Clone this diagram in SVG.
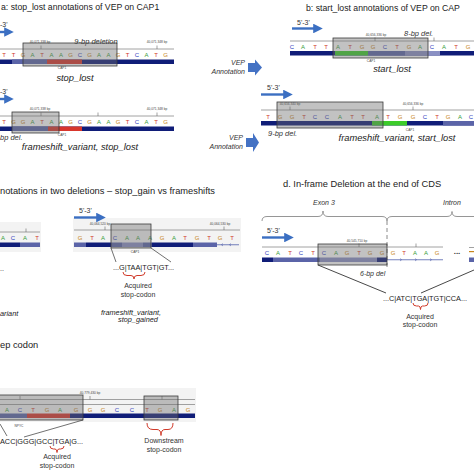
<svg xmlns="http://www.w3.org/2000/svg" width="474" height="474" viewBox="0 0 474 474">
<defs>
<style>
text{font-family:"Liberation Sans",Arial,sans-serif}
.ttl{font-size:8.7px;fill:#222}
.ttl2{font-size:9.3px;fill:#222}
.it{font-style:italic}
.lab{font-size:9.3px;fill:#222}
.lab2{font-size:7.3px;fill:#222}
.sm{font-size:7px;fill:#333}
.tiny{font-size:3.2px;fill:#444}
.nt{font-size:6px;text-anchor:middle}
.A{fill:#3a9d3a}.C{fill:#3040c0}.G{fill:#c8861c}.T{fill:#d03a2a}
.rl{stroke:#8a8a8a;stroke-width:0.8;fill:none}
.tk{stroke:#666;stroke-width:0.6}
.nv{fill:#101d78}.sl{fill:#5b64a8}.ls{fill:#8a90c4}.rd{fill:#d8362c}.gr{fill:#3ccc2a}
.box{fill:#6e6e6e;fill-opacity:0.42;stroke:#3a3a3a;stroke-width:0.8}
.ar{stroke:#3b6fc2;stroke-width:2.4;fill:none;marker-end:url(#ah)}
.bk{fill:#4472c4}
.ln{stroke:#333;stroke-width:0.9;fill:none}
.br{stroke:#d03a2a;stroke-width:1;fill:none}
.gb{stroke:#8a8a8a;stroke-width:0.9;fill:none}
.bg{fill:#f3f3f3}
.mid{text-anchor:middle}
.end{text-anchor:end}
</style>
<marker id="ah" markerWidth="4" markerHeight="4" refX="2" refY="2" orient="auto" markerUnits="strokeWidth">
<path d="M0,0 L4,2 L0,4 Z" fill="#3b6fc2"/>
</marker>
</defs>
<rect width="474" height="474" fill="#fff"/>

<!-- Panel a -->
<g id="panel-a">
<text class="ttl" x="1" y="10">a: stop_lost annotations of VEP on CAP1</text>
<g id="a-track1">
<text class="sm" x="0" y="27">-3'</text>
<line class="ar" x1="0" y1="32" x2="9" y2="32"/>
<text class="tiny mid" x="40" y="42.5">40,071,338 bp</text>
<text class="tiny mid" x="157" y="42.5">40,071,348 bp</text>
<text class="sm it mid" x="96" y="43.5" style="font-size:7.5px">9-bp deletion</text>
<line class="rl" x1="0" y1="49" x2="174" y2="49"/>
<line class="tk" x1="41" y1="45.5" x2="41" y2="49"/>
<line class="tk" x1="157" y1="45.5" x2="157" y2="49"/>
<text class="nt" y="56.5"><tspan class="T" x="4">T</tspan><tspan class="T" x="13.5">T</tspan><tspan class="G" x="23">G</tspan><tspan class="A" x="32.5">A</tspan><tspan class="T" x="42">T</tspan><tspan class="A" x="51.5">A</tspan><tspan class="A" x="61">A</tspan><tspan class="G" x="70.5">G</tspan><tspan class="C" x="80">C</tspan><tspan class="G" x="89.5">G</tspan><tspan class="A" x="99">A</tspan><tspan class="A" x="108.5">A</tspan><tspan class="G" x="118">G</tspan><tspan class="T" x="127.5">T</tspan><tspan class="C" x="137">C</tspan><tspan class="A" x="146.5">A</tspan><tspan class="T" x="156">T</tspan><tspan class="G" x="165.5">G</tspan></text>
<rect class="nv" x="0" y="59.5" width="174" height="4.5"/>
<rect class="sl" x="12" y="59.5" width="35" height="4.5"/>
<rect class="rd" x="47" y="59.5" width="35" height="4.5"/>
<text class="tiny mid" x="62" y="68.5">CAP1</text>
<rect class="box" x="23" y="43" width="94" height="23"/>
<text class="lab it mid" x="75" y="81">stop_lost</text>
</g>
<g id="a-track2">
<text class="sm" x="0" y="94">-3'</text>
<line class="ar" x1="0" y1="99" x2="9" y2="99"/>
<text class="tiny mid" x="40" y="109.5">40,071,338 bp</text>
<text class="tiny mid" x="157" y="109.5">40,071,348 bp</text>
<line class="rl" x1="0" y1="116" x2="174" y2="116"/>
<line class="tk" x1="41" y1="112.5" x2="41" y2="116"/>
<line class="tk" x1="98" y1="112.5" x2="98" y2="116"/>
<line class="tk" x1="157" y1="112.5" x2="157" y2="116"/>
<text class="nt" y="123.5"><tspan class="T" x="4">T</tspan><tspan class="G" x="13.5">G</tspan><tspan class="G" x="23">G</tspan><tspan class="A" x="32.5">A</tspan><tspan class="T" x="42">T</tspan><tspan class="A" x="51.5">A</tspan><tspan class="A" x="61">A</tspan><tspan class="G" x="70.5">G</tspan><tspan class="C" x="80">C</tspan><tspan class="G" x="89.5">G</tspan><tspan class="A" x="99">A</tspan><tspan class="A" x="108.5">A</tspan><tspan class="G" x="118">G</tspan><tspan class="T" x="127.5">T</tspan><tspan class="C" x="137">C</tspan><tspan class="A" x="146.5">A</tspan><tspan class="T" x="156">T</tspan><tspan class="G" x="165.5">G</tspan></text>
<rect class="nv" x="0" y="126.5" width="174" height="4.5"/>
<rect class="sl" x="12" y="126.5" width="36" height="4.5"/>
<rect class="rd" x="48" y="126.5" width="34" height="4.5"/>
<text class="tiny mid" x="62" y="136">CAP1</text>
<rect class="box" x="12" y="112" width="47" height="21"/>
<text class="sm it" x="0" y="139.5" style="font-size:7.5px">bp del.</text>
<text class="lab it mid" x="80" y="150">frameshift_variant, stop_lost</text>
</g>
</g>

<!-- connectors: VEP annotation arrows -->
<g id="connectors">
<text class="sm it end" x="245" y="64.5">VEP</text>
<text class="sm it end" x="245" y="74">Annotation</text>
<polygon class="bk" points="248,63 255,63 255,59.5 262,67.5 255,75.5 255,72 248,72"/>
<text class="sm it end" x="243" y="139.5">VEP</text>
<text class="sm it end" x="243" y="149">Annotation</text>
<polygon class="bk" points="246,138 253,138 253,133 259,142.5 253,152 253,147 246,147"/>
</g>

<!-- Panel b -->
<g id="panel-b">
<text class="ttl" x="306" y="10.5">b: start_lost annotations of VEP on CAP</text>
<g id="b-track1">
<text class="sm" x="297" y="24.5">5'-3'</text>
<line class="ar" x1="292" y1="28.5" x2="318" y2="28.5"/>
<text class="tiny mid" x="376" y="35.5">40,656,336 bp</text>
<text class="sm it" x="404" y="36" style="font-size:7.5px">8-bp del.</text>
<line class="rl" x1="290" y1="41" x2="474" y2="41"/>
<line class="tk" x1="375" y1="37.5" x2="375" y2="41"/>
<line class="tk" x1="434" y1="37.5" x2="434" y2="41"/>
<text class="nt" y="48.5"><tspan class="C" x="292">C</tspan><tspan class="A" x="303">A</tspan><tspan class="T" x="315">T</tspan><tspan class="T" x="326">T</tspan><tspan class="A" x="338">A</tspan><tspan class="T" x="350">T</tspan><tspan class="G" x="362">G</tspan><tspan class="G" x="373">G</tspan><tspan class="C" x="385">C</tspan><tspan class="T" x="397">T</tspan><tspan class="G" x="409">G</tspan><tspan class="A" x="420">A</tspan><tspan class="C" x="432">C</tspan><tspan class="A" x="444">A</tspan><tspan class="T" x="456">T</tspan><tspan class="G" x="468">G</tspan></text>
<rect class="nv" x="290" y="51" width="184" height="4.5"/>
<rect class="gr" x="335" y="51" width="33" height="4.5"/>
<rect class="sl" x="368" y="51" width="37" height="4.5"/>
<rect class="ls" x="405" y="51" width="35" height="4.5"/>
<text class="tiny mid" x="371" y="62">CAP1</text>
<rect class="box" x="333" y="38" width="95" height="20"/>
<text class="lab it mid" x="392" y="71.5">start_lost</text>
</g>
<g id="b-track2">
<text class="sm" x="267" y="89.5">5'-3'</text>
<line class="ar" x1="261" y1="94.5" x2="288" y2="94.5"/>
<text class="tiny mid" x="290" y="104.5">40,656,340 bp</text>
<text class="tiny mid" x="413" y="104.5">40,656,336 bp</text>
<line class="rl" x1="261" y1="110" x2="474" y2="110"/>
<line class="tk" x1="290" y1="106.5" x2="290" y2="110"/>
<line class="tk" x1="413" y1="106.5" x2="413" y2="110"/>
<text class="nt" y="118.5"><tspan class="T" x="268">T</tspan><tspan class="G" x="280">G</tspan><tspan class="G" x="292">G</tspan><tspan class="T" x="304">T</tspan><tspan class="C" x="315">C</tspan><tspan class="C" x="327">C</tspan><tspan class="A" x="340">A</tspan><tspan class="T" x="352">T</tspan><tspan class="T" x="363">T</tspan><tspan class="A" x="377">A</tspan><tspan class="T" x="388">T</tspan><tspan class="G" x="400">G</tspan><tspan class="G" x="413">G</tspan><tspan class="C" x="425">C</tspan><tspan class="T" x="437">T</tspan><tspan class="G" x="448">G</tspan><tspan class="A" x="460">A</tspan><tspan class="C" x="471">C</tspan></text>
<rect class="nv" x="261" y="121" width="213" height="4.5"/>
<rect class="gr" x="372" y="121" width="35" height="4.5"/>
<rect class="sl" x="443" y="121" width="31" height="4.5"/>
<text class="tiny mid" x="410" y="130.5">CAP1</text>
<rect class="box" x="277" y="102" width="106" height="26"/>
<text class="sm it" x="268" y="135.5" style="font-size:7.5px">9-bp del.</text>
<text class="lab it mid" x="397" y="141">frameshift_variant, start_lost</text>
</g>
</g>

<!-- Panel c -->
<g id="panel-c">
<text class="ttl2" x="0" y="194">notations in two deletions – stop_gain vs frameshifts</text>
<g id="c-track1">
<rect class="bg" x="0" y="222" width="41" height="30"/>
<line class="rl" x1="0" y1="232" x2="40" y2="232"/>
<line class="tk" x1="26" y1="228.5" x2="26" y2="232"/>
<text class="nt" y="239.5"><tspan class="A" x="3">A</tspan><tspan class="C" x="13">C</tspan><tspan class="A" x="25">A</tspan><tspan class="T" x="37">T</tspan></text>
<rect class="nv" x="0" y="242.5" width="20" height="4.5"/>
<rect class="sl" x="20" y="242.5" width="20" height="4.5"/>
<text class="sm" x="0" y="271">..</text>
<text class="lab2 it" x="0" y="316">ariant</text>
</g>
<g id="c-track2">
<rect class="bg" x="73" y="218" width="168" height="34"/>
<text class="sm" x="79" y="213">5'-3'</text>
<line class="ar" x1="74" y1="217.5" x2="101" y2="217.5"/>
<text class="tiny mid" x="100" y="224.5">40,064,520 bp</text>
<text class="tiny mid" x="220" y="224.5">40,064,530 bp</text>
<line class="rl" x1="74" y1="230" x2="240" y2="230"/>
<line class="tk" x1="105" y1="226.5" x2="105" y2="230"/>
<line class="tk" x1="224" y1="226.5" x2="224" y2="230"/>
<text class="nt" y="240"><tspan class="G" x="80">G</tspan><tspan class="T" x="92">T</tspan><tspan class="A" x="103">A</tspan><tspan class="C" x="115">C</tspan><tspan class="A" x="127">A</tspan><tspan class="A" x="138">A</tspan><tspan class="A" x="150">A</tspan><tspan class="G" x="162">G</tspan><tspan class="A" x="174">A</tspan><tspan class="T" x="185">T</tspan><tspan class="G" x="197">G</tspan><tspan class="T" x="209">T</tspan><tspan class="G" x="220">G</tspan><tspan class="T" x="232">T</tspan></text>
<rect class="sl" x="74" y="242.5" width="12" height="4.5"/>
<rect class="nv" x="86" y="242.5" width="25" height="4.5"/>
<rect class="sl" x="111" y="242.5" width="11" height="4.5"/>
<rect class="ls" x="122" y="242.5" width="21" height="4.5"/>
<rect class="sl" x="143" y="242.5" width="9" height="4.5"/>
<rect class="nv" x="152" y="242.5" width="41" height="4.5"/>
<rect class="sl" x="193" y="242.5" width="24" height="4.5"/>
<line x1="217" y1="244.75" x2="239" y2="244.75" stroke="#3a4aa0" stroke-width="0.7"/>
<path d="M223,243.5 L221.5,244.75 L223,246 M231,243.5 L229.5,244.75 L231,246" stroke="#3a4aa0" stroke-width="0.5" fill="none"/>
<text class="tiny mid" x="135" y="252.5">CAP1</text>
<rect class="box" x="111" y="224" width="40" height="24"/>
<path class="ln" d="M111,248 L116,262 M151,248 L171,262" style="stroke-width:0.7"/>
<text class="lab2" x="113" y="269.5">...G|TAA|TGT|GT...</text>
<path class="br" d="M123,272 Q123,275.5 127,275.5 L131,275.5 Q134,275.5 134,279 Q134,275.5 137,275.5 L141,275.5 Q145,275.5 145,272"/>
<text class="sm mid" x="138" y="288">Acquired</text>
<text class="sm mid" x="138" y="297">stop-codon</text>
<text class="lab2 it mid" x="131" y="314.5">frameshift_variant,</text>
<text class="lab2 it mid" x="138" y="322">stop_gained</text>
</g>
</g>

<!-- Panel d -->
<g id="panel-d">
<text class="ttl2" x="283" y="187">d. In-frame Deletion at the end of CDS</text>
<text class="sm it" x="313" y="205">Exon 3</text>
<text class="sm it" x="443" y="205">Intron</text>
<path class="gb" d="M262,221 Q262,216.5 267,216.5 L318,216.5 Q323,216.5 323,211 Q323,216.5 328,216.5 L382,216.5 Q387,216.5 387,221"/>
<path class="gb" d="M387,221 Q387,216.5 392,216.5 L447,216.5 Q452,216.5 452,211.5 Q452,216.5 457,216.5 L474,216.5"/>
<line x1="387" y1="221" x2="387" y2="270" stroke="#8a8a8a" stroke-width="1" stroke-dasharray="4,3"/>
<text class="sm" x="267" y="233">5'-3'</text>
<line class="ar" x1="262" y1="237.5" x2="289" y2="237.5"/>
<text class="tiny mid" x="357" y="241.5">40,545,710 bp</text>
<line class="rl" x1="262" y1="247" x2="443" y2="247"/>
<line class="tk" x1="359" y1="243.5" x2="359" y2="247"/>
<line class="tk" x1="416" y1="243.5" x2="416" y2="247"/>
<text class="nt" y="255"><tspan class="C" x="267">C</tspan><tspan class="A" x="278">A</tspan><tspan class="T" x="290">T</tspan><tspan class="C" x="301">C</tspan><tspan class="T" x="313">T</tspan><tspan class="C" x="324">C</tspan><tspan class="A" x="336">A</tspan><tspan class="G" x="347">G</tspan><tspan class="T" x="359">T</tspan><tspan class="G" x="370">G</tspan><tspan class="G" x="382">G</tspan><tspan class="G" x="393">G</tspan><tspan class="T" x="404">T</tspan><tspan class="A" x="415">A</tspan><tspan class="A" x="426">A</tspan><tspan class="G" x="437">G</tspan></text>
<rect class="nv" x="262" y="257.5" width="11" height="4.5"/>
<rect class="sl" x="273" y="257.5" width="47" height="4.5"/>
<rect class="ls" x="320" y="257.5" width="57" height="4.5"/>
<rect class="nv" x="377" y="257.5" width="10" height="4.5"/>
<line x1="387" y1="259.75" x2="443" y2="259.75" stroke="#3a4aa0" stroke-width="0.7"/>
<path d="M400,258.5 L401.5,259.75 L400,261 M415,258.5 L416.5,259.75 L415,261 M430,258.5 L431.5,259.75 L430,261" stroke="#3a4aa0" stroke-width="0.5" fill="none"/>
<rect class="box" x="318" y="244" width="69" height="21"/>
<text class="sm it" x="360" y="275.5">6-bp del</text>
<text x="457" y="254" class="mid" style="font-size:8px;font-weight:bold;fill:#333">...</text>
<rect x="469" y="247" width="5" height="0.8" fill="#8a8a8a"/>
<rect x="469" y="251" width="5" height="1.2" fill="#c8861c"/>
<rect class="sl" x="469" y="257.5" width="5" height="4.5"/>
<path class="ln" d="M318,265 L386,293 M474,270 L421,293"/>
<text class="lab2" x="383" y="300.5">...C|ATC|TGA|TGT|CCA...</text>
<path class="br" d="M413,303 Q413,306 416.5,306 L418.5,306 Q420.5,306 420.5,309.5 Q420.5,306 422.5,306 L424.5,306 Q428,306 428,303"/>
<text class="sm mid" x="420" y="318.5">Acquired</text>
<text class="sm mid" x="420" y="327">stop-codon</text>
</g>

<!-- Panel e -->
<g id="panel-e">
<text class="ttl2" x="0" y="347.5">ep codon</text>
<rect class="bg" x="0" y="388" width="196" height="34"/>
<text class="tiny mid" x="90" y="394">40,779,430 bp</text>
<line class="rl" x1="0" y1="399.5" x2="195" y2="399.5"/>
<line class="rl" x1="0" y1="404.5" x2="195" y2="404.5"/>
<line class="tk" x1="20" y1="396" x2="20" y2="399.5"/>
<line class="tk" x1="90" y1="396" x2="90" y2="399.5"/>
<line class="tk" x1="162" y1="396" x2="162" y2="399.5"/>
<text class="nt" y="411.5"><tspan class="A" x="7">A</tspan><tspan class="C" x="20">C</tspan><tspan class="T" x="33">T</tspan><tspan class="G" x="47">G</tspan><tspan class="A" x="60">A</tspan><tspan class="G" x="76">G</tspan><tspan class="G" x="90">G</tspan><tspan class="G" x="103">G</tspan><tspan class="C" x="117">C</tspan><tspan class="C" x="132">C</tspan><tspan class="T" x="147">T</tspan><tspan class="G" x="160">G</tspan><tspan class="A" x="174">A</tspan><tspan class="G" x="188">G</tspan></text>
<rect class="sl" x="0" y="413.5" width="27" height="4.5"/>
<rect class="rd" x="27" y="413.5" width="43" height="4.5"/>
<rect class="nv" x="70" y="413.5" width="125" height="4.5"/>
<rect class="box" x="-2" y="395" width="85" height="25"/>
<rect class="box" x="144" y="396" width="34" height="24"/>
<text class="tiny mid" x="19" y="426.5">NPYC</text>
<path class="ln" d="M83,420 L24,437 M0,424 L7,436" style="stroke-width:0.7"/>
<text class="lab2" x="0" y="443.5">ACC|GGG|GCC|TGA|G...</text>
<path class="br" d="M50,446 Q50,449 53.5,449 L55,449 Q57,449 57,452.5 Q57,449 59,449 L60.5,449 Q64,449 64,446"/>
<text class="sm mid" x="57" y="459">Acquired</text>
<text class="sm mid" x="57" y="468">stop-codon</text>
<path class="br" d="M147,423 Q147,429.5 153,429.5 L157,429.5 Q161,429.5 161,435.5 Q161,429.5 165,429.5 L168,429.5 Q173,429.5 173,423"/>
<text class="sm mid" x="164" y="443">Downstream</text>
<text class="sm mid" x="164" y="451.5">stop-codon</text>
</g>
</svg>
